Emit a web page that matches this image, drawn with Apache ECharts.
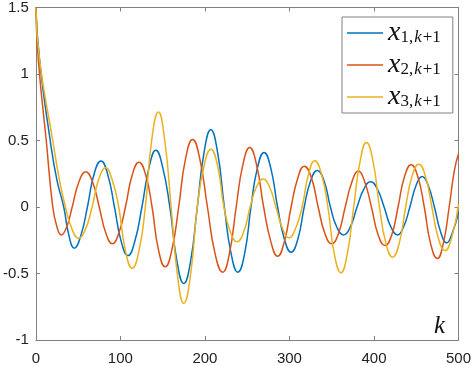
<!DOCTYPE html>
<html>
<head>
<meta charset="utf-8">
<script src="https://cdn.jsdelivr.net/npm/echarts@6/dist/echarts.min.js"></script>
<style>html,body{margin:0;padding:0;background:#fff}#c{width:474px;height:366px}</style>
</head>
<body>
<div id="c"></div>
<script>
// Values: [k, value]
const x1 = [[0,1.5],[4.5,1.1],[17,0.5],[25,0.2],[33,0],[39,-0.21],[45.5,-0.31],[53,-0.22],[61,0],[69,0.25],[77,0.345],[85,0.245],[93,0],[101,-0.26],[109,-0.365],[117,-0.26],[125.5,0],[134,0.3],[142,0.427],[150,0.3],[158.5,0],[167,-0.41],[175,-0.575],[183,-0.41],[191,0],[199,0.41],[207,0.58],[215,0.41],[223,0],[231,-0.35],[239,-0.49],[247,-0.35],[254.5,0],[262,0.29],[270,0.41],[278,0.29],[286,0],[294,-0.24],[302,-0.34],[310,-0.24],[317.5,0],[325,0.195],[333,0.275],[341,0.195],[348.5,0],[356,-0.15],[364,-0.21],[372,-0.15],[380,0],[388,0.135],[396,0.19],[404,0.135],[412,0],[420,-0.15],[428,-0.21],[435,-0.15],[442.5,0],[450,0.165],[457,0.23],[464,0.165],[471.5,0],[479,-0.19],[486,-0.27],[493,-0.19],[500,-0.04]];
const x2 = [[0,1.5],[3,1.1],[12.3,0.5],[20,0],[25,-0.15],[30,-0.21],[36.5,-0.15],[43,0],[51,0.19],[59,0.265],[67,0.19],[75,0],[83,-0.2],[90.5,-0.277],[98,-0.2],[106,0],[114,0.24],[122,0.337],[130,0.24],[137.5,0],[145,-0.32],[153,-0.45],[161,-0.32],[169,0],[177,0.36],[185.5,0.507],[194,0.36],[203,0],[212,-0.35],[221,-0.49],[229,-0.35],[237,0],[245,0.32],[253,0.447],[261,0.32],[269.5,0],[278,-0.26],[286,-0.37],[294,-0.26],[302,0],[310,0.22],[317.5,0.307],[326,0.22],[334,0],[342,-0.2],[350,-0.277],[358,-0.2],[366,0],[374,0.19],[381.5,0.27],[389,0.19],[397,0],[405,-0.21],[413,-0.29],[421,-0.21],[428.5,0],[436,0.225],[444,0.317],[452,0.225],[459.5,0],[467,-0.275],[475,-0.387],[482,-0.275],[489,0],[495,0.27],[500,0.40]];
const x3 = [[0,1.5],[4.5,1.1],[20,0.5],[28,0.2],[35,0],[43,-0.17],[50.5,-0.235],[58.5,-0.17],[66.5,0],[74.5,0.21],[82.6,0.295],[90,0.21],[98,0],[106,-0.33],[114,-0.46],[122,-0.33],[129.5,0],[137,0.5],[145,0.714],[152.5,0.5],[160,0],[167.5,-0.51],[175,-0.724],[183,-0.51],[191,0],[199,0.31],[207,0.434],[215,0.31],[222.5,0],[230,-0.185],[238,-0.262],[246,-0.185],[253.5,0],[261,0.15],[269,0.21],[276.5,0.15],[284,0],[292,-0.165],[299.5,-0.232],[307,-0.165],[315,0],[322.5,0.245],[330,0.347],[338,0.245],[345.5,0],[353,-0.35],[361,-0.494],[368.5,-0.35],[376,0],[383.5,0.34],[391,0.485],[399,0.34],[406.5,0],[414,-0.27],[422,-0.377],[430,-0.27],[437.5,0],[445,0.23],[453,0.322],[461,0.23],[468.5,0],[476,-0.23],[484,-0.327],[492,-0.23],[500,0.02]];
const seriesNames = ['x1','x2','x3'];
const subIndex = ['1','2','3'];
const colors = ['#0072BD','#D95319','#EDB120'];
const xTicks = {min:0, max:500, interval:100};
const yTicks = {min:-1, max:1.5, interval:0.5};

const axisGray = '#808080';
const labelFont = {color:'#222', fontSize:15, fontFamily:'Liberation Sans, Arial, sans-serif'};
const chart = echarts.init(document.getElementById('c'));
const baseAxis = {
  axisLine:{show:true, onZero:false, lineStyle:{color:axisGray, width:1}},
  axisTick:{show:true, inside:true, length:4, lineStyle:{color:axisGray}},
  splitLine:{show:false}
};
chart.setOption({
  animation:false,
  grid:{left:34, right:14, top:7, bottom:25},
  xAxis:[
    Object.assign({type:'value', position:'bottom', axisLabel:Object.assign({margin:11}, labelFont)}, xTicks, baseAxis),
    Object.assign({type:'value', position:'top', axisLabel:{show:false}}, xTicks, baseAxis)
  ],
  yAxis:[
    Object.assign({type:'value', position:'left', axisLabel:Object.assign({margin:7}, labelFont)}, yTicks, baseAxis),
    Object.assign({type:'value', position:'right', axisLabel:{show:false}}, yTicks, baseAxis)
  ],
  legend:{
    orient:'vertical', left:342, top:17,
    padding:[2,12,2,5], itemGap:4, itemWidth:36, itemHeight:1.6, icon:'rect',
    backgroundColor:'#fff', borderColor:axisGray, borderWidth:1, borderRadius:0,
    data:seriesNames,
    formatter:function(n){const i=seriesNames.indexOf(n);return '{x|x}{s|'+subIndex[i]+',}{k|k}{s|+1}';},
    textStyle:{
      rich:{
        x:{fontFamily:'Liberation Serif', fontStyle:'italic', fontSize:28, lineHeight:26, verticalAlign:'middle', color:'#111'},
        s:{fontFamily:'Liberation Serif', fontSize:17, lineHeight:15, verticalAlign:'bottom', color:'#111'},
        k:{fontFamily:'Liberation Serif', fontStyle:'italic', fontSize:17, lineHeight:15, verticalAlign:'bottom', color:'#111', padding:[0,1,0,1]}
      }
    }
  },
  graphic:[{type:'text', left:434, top:314, style:{text:'k', font:'italic 25px "Liberation Serif"', fill:'#111'}}],
  series:[x1,x2,x3].map((d,i)=>({
    name:seriesNames[i], type:'line', data:d, smooth:0.5, symbol:'none',
    xAxisIndex:0, yAxisIndex:0,
    lineStyle:{color:colors[i], width:1.5}, itemStyle:{color:colors[i]}
  }))
});
</script>
</body>
</html>
